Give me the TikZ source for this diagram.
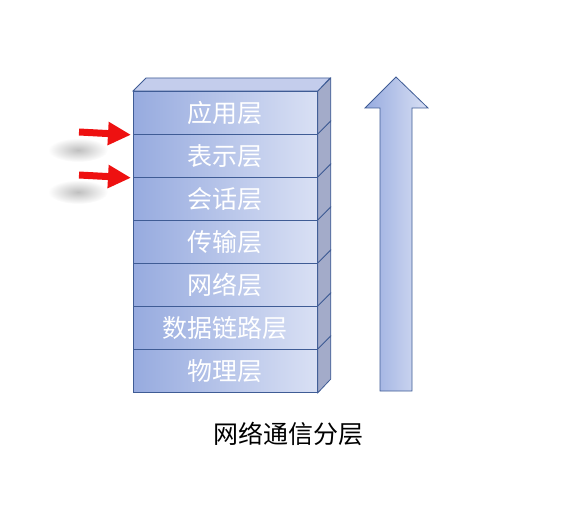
\documentclass[tikz,border=0pt]{standalone}
\usepackage{fontspec}
\newfontfamily\cjk{Noto Sans CJK SC}
\usetikzlibrary{arrows.meta,calc}

\definecolor{layerdark}{HTML}{97ABDF}
\definecolor{layerlight}{HTML}{D9E0F4}
\definecolor{layerside}{HTML}{A3ABC9}
\definecolor{layertop}{HTML}{C4CDEC}
\definecolor{layeredge}{HTML}{3F5C95}
\definecolor{arrowred}{HTML}{EE1111}

\begin{document}
\begin{tikzpicture}[x=1pt,y=-1pt,
    layer/.style={draw=layeredge, line width=0.8pt, left color=layerdark, right color=layerlight,
      minimum width=184pt, minimum height=43pt, inner sep=0pt, text=white,
      font=\cjk\fontsize{25}{29}\selectfont},
    face/.style={draw=layeredge, line width=0.8pt, fill=layerside},
    push/.style={line width=7pt, arrowred, -{Triangle[length=23pt,width=22pt]}},
    blur/.style={inner color=gray!50, outer color=white}
  ]
  \useasboundingbox (0,0) rectangle (561,521);

  % Shadows of the red arrows
  \shade[blur] (78,150) ellipse (30 and 12);
  \shade[blur] (78,192) ellipse (30 and 12);

  % Layer stack
  \foreach \name [count=\i from 0] in {应用层,表示层,会话层,传输层,网络层,数据链路层,物理层} {
    \node[layer, anchor=north west] (L\i) at (133,{91+43*\i}) {\name};
    \filldraw[face] (L\i.north east) -- ++(13,-13) -- ++(0,43) -- (L\i.south east) -- cycle;
  }
  % Top face
  \filldraw[face, fill=layertop] (L0.north west) -- ++(13,-13) -- ++(184,0) -- (L0.north east) -- cycle;

  % Red arrows
  \coordinate (push1) at (79,132);
  \coordinate (push2) at (79,175);
  \draw[push] (push1) -- ($(L0.south west)+(-2,0)$);
  \draw[push] (push2) -- ($(L1.south west)+(-2,0)$);

  % Upward arrow
  \shade[left color=layerdark, right color=layerlight, draw=layeredge, line width=0.8pt]
    (380,391) -- (380,108) -- (365,108) -- (396,77) -- (428,108) -- (412,108) -- (412,391) -- cycle;

  % Caption
  \node[font=\cjk\fontsize{25}{29}\selectfont] (caption) at (288,434) {网络通信分层};
\end{tikzpicture}
\end{document}
